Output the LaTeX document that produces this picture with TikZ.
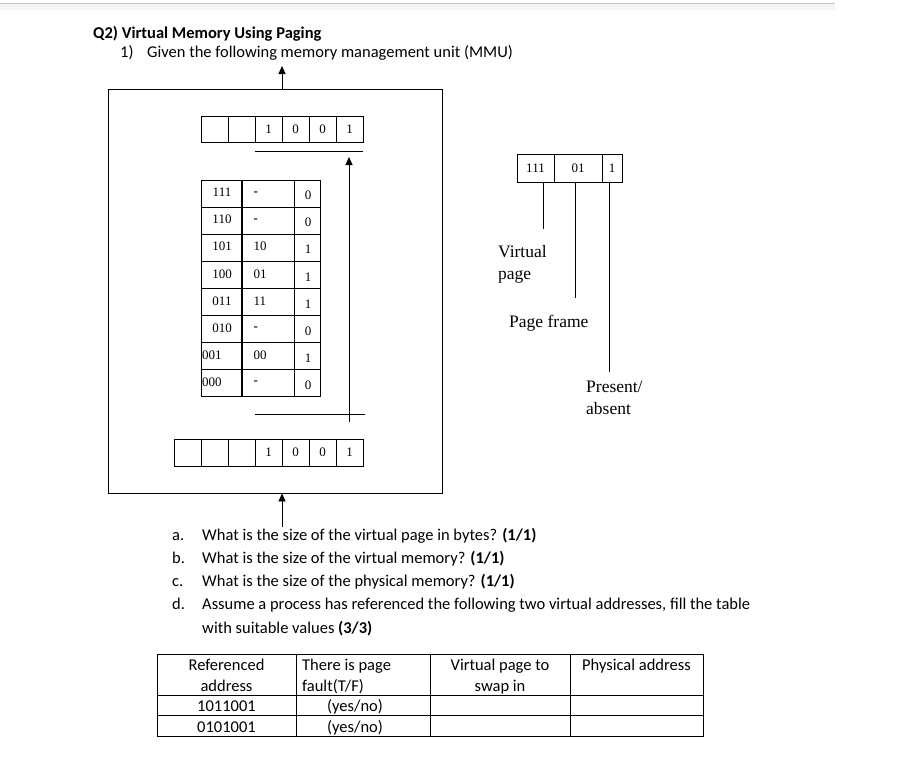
\documentclass[tikz,border=0pt]{standalone}
\usepackage{fontspec}
\setmainfont{Carlito}
\newfontfamily\tnr{Liberation Serif}
\usepackage{tikz}
\usetikzlibrary{positioning}
\usetikzlibrary{arrows.meta,calc}
\tikzstyle{cell}=[draw,line width=0.9pt,minimum width=27pt,minimum height=26pt,inner sep=0pt,font=\tnr\fontsize{13}{15}\selectfont]
\tikzstyle{ptcell}=[draw,line width=0.9pt,minimum height=27.1pt,inner sep=0pt]
\tikzstyle{ptnum}=[inner sep=0pt,font=\tnr\fontsize{13}{15}\selectfont]
\tikzstyle{lbl}=[inner sep=0pt,align=left,anchor=west,font=\tnr\fontsize{17.5}{22}\selectfont]
\tikzstyle{arr}=[draw,line width=0.9pt,-{Triangle[length=8pt,width=7pt]}]
\tikzstyle{txt}=[anchor=base west,inner sep=0pt,font=\fontsize{16.5}{19.8}\selectfont]
\tikzstyle{ctxt}=[anchor=base,inner sep=0pt,font=\fontsize{16.5}{19.8}\selectfont]
\newcommand{\nf}{\raisebox{-5pt}{\textbf{-}}}

\begin{document}
\begin{tikzpicture}[x=1pt,y=-1pt]
  \useasboundingbox (0,0) rectangle (901,760);

  % page edge at the top
  \fill[gray!8] (0,4) rectangle (835,10);
  \draw[gray!45,line width=1.5pt] (0,3.5) -- (835,3.5);

  \node[txt] (title) at (93,38) {\bfseries Q2) Virtual Memory Using Paging};
  \node[txt] (num) at (120,58) {1)};
  \node[txt] (given) at (147,58) {Given the following memory management unit (MMU)};

  % the MMU
  \node[draw,line width=0.9pt,minimum width=334pt,minimum height=404pt,inner sep=0pt] (mmu) at (275,291) {};
  \coordinate (outTip) at (282,66);
  \coordinate (inTail) at (282,527);
  \path[arr] (outTip |- mmu.north) -- (outTip);
  \path[arr] (inTail) -- (inTail |- mmu.south);

  % physical address register (top)
  \foreach \i/\b in {0/,1/,2/1,3/0,4/0,5/1}
    \node[cell] (out\i) at (214.5+27*\i,129) {\b};

  % virtual address register (bottom)
  \foreach \i/\b in {0/,1/,2/,3/1,4/0,5/0,6/1}
    \node[cell,minimum height=27pt] (in\i) at (187.5+27*\i,452.5) {\b};

  \coordinate (topL) at (255,151);
  \coordinate (topR) at (363,151);
  \coordinate (botL) at (255,414);
  \coordinate (botR) at (365,414);
  \coordinate (upS) at (349,422);
  \coordinate (upE) at (349,157);
  \draw[line width=0.9pt] (topL) -- (topR);
  \draw[line width=0.9pt] (botL) -- (botR);
  \path[arr] (upS) -- (upE);

  % page table
  \foreach \r/\vp/\vx/\va/\pf/\pa in {0/111/222/center/\nf/0, 1/110/222/center/\nf/0, 2/101/222/center/10/1,
      3/100/222/center/01/1, 4/011/222/center/11/1, 5/010/222/center/\nf/0, 6/001/202/west/00/1, 7/000/202/west/\nf/0}
  {
    \node[ptcell,minimum width=40pt] (vp\r) at (221.5,193.55+27.1*\r) {};
    \node[ptcell,minimum width=52pt] (pf\r) at (268,193.55+27.1*\r) {};
    \node[ptcell,minimum width=26pt] (pa\r) at (307,193.55+27.1*\r) {};
    \node[ptnum,anchor=\va] (vpt\r) at (\vx,192.5+27.1*\r) {\vp};
    \node[ptnum,anchor=west] (pft\r) at (253.5,192.5+27.1*\r) {\pf};
    \node[ptnum] (pat\r) at (308,195.5+27.1*\r) {\pa};
  }

  % one page table entry
  \node[cell,minimum width=37pt,minimum height=28pt] (rvp) at (535.5,168) {111};
  \node[cell,minimum width=48pt,minimum height=28pt] (rpf) at (578,168) {01};
  \node[cell,minimum width=20pt,minimum height=28pt] (rpa) at (612,168) {1};
  \coordinate (vpEnd) at (543,229);
  \coordinate (pfEnd) at (575,298);
  \coordinate (paEnd) at (609,372);
  \draw[line width=0.9pt] (vpEnd |- rvp.south) -- (vpEnd);
  \draw[line width=0.9pt] (pfEnd |- rpf.south) -- (pfEnd);
  \draw[line width=0.9pt] (paEnd |- rpa.south) -- (paEnd);
  \node[lbl] (vpLbl) at (498,264) {Virtual\\page};
  \node[lbl] (pfLbl) at (509,323) {Page frame};
  \node[lbl] (paLbl) at (586,398) {Present/\\absent};

  % questions
  \node[txt] (qa) at (172,540) {a.};
  \node[txt] (qat) at (202,540) {What is the size of the virtual page in bytes? \textbf{(1/1)}};
  \node[txt] (qb) at (172,563.3) {b.};
  \node[txt] (qbt) at (202,563.3) {What is the size of the virtual memory? \textbf{(1/1)}};
  \node[txt] (qc) at (172,586.6) {c.};
  \node[txt] (qct) at (202,586.6) {What is the size of the physical memory? \textbf{(1/1)}};
  \node[txt] (qd) at (172,609.9) {d.};
  \node[txt] (qdt) at (202,609.9) {Assume a process has referenced the following two virtual addresses, fill the table};
  \node[txt] (qdt2) at (202,633.2) {with suitable values \textbf{(3/3)}};

  % answer table
  \draw[line width=0.9pt] (157,654) rectangle (703,736);
  \draw[line width=0.9pt] (157,695) -- (703,695);
  \draw[line width=0.9pt] (157,715.5) -- (703,715.5);
  \foreach \cx in {296,430,570}
    \draw[line width=0.9pt] (\cx,654) -- (\cx,736);
  \node[ctxt] (h1a) at (226.5,670) {Referenced};
  \node[ctxt] (h1b) at (226.5,691) {address};
  \node[txt] (h2a) at (302,670) {There is page};
  \node[txt] (h2b) at (302,691) {fault(T/F)};
  \node[ctxt] (h3a) at (500,670) {Virtual page to};
  \node[ctxt] (h3b) at (500,691) {swap in};
  \node[ctxt] (h4) at (636.5,670) {Physical address};
  \node[ctxt] (a1) at (226.5,711.5) {1011001};
  \node[txt] (f1) at (327,711.5) {(yes/no)};
  \node[ctxt] (a2) at (226.5,732) {0101001};
  \node[txt] (f2) at (327,732) {(yes/no)};
\end{tikzpicture}
\end{document}
